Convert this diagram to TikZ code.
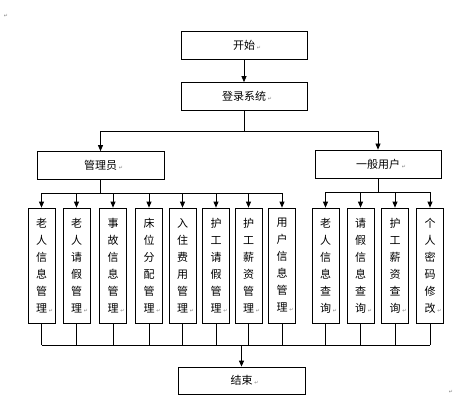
\documentclass[tikz,border=0pt]{standalone}
\usepackage{fontspec}
\usetikzlibrary{arrows.meta}
\newfontfamily\cjk{Noto Sans CJK SC}
\newfontfamily\symf{DejaVu Sans}
\newcommand{\pmk}{\rlap{\,\textcolor{gray}{\symf\fontsize{5}{5}\selectfont ↵}}}
\begin{document}
\begin{tikzpicture}[x=1pt,y=-1pt,
  line width=0.75pt,
  wide/.style={draw, minimum width=126pt, minimum height=28pt, inner sep=0pt, font=\cjk\fontsize{11}{13}\selectfont},
  col/.style={draw, minimum width=27pt, minimum height=115pt, inner sep=0pt, align=center, font=\cjk\fontsize{11}{17}\selectfont},
  arr/.style={-{Triangle[length=6pt,width=5pt]}}]
\useasboundingbox (0,0) rectangle (474,401);
\node[font=\fontsize{5}{5}\selectfont\symf, text=gray] (m1) at (6,16) {↵};
\node[font=\fontsize{5}{5}\selectfont\symf, text=gray] (m2) at (451,392) {↵};
\node[wide] (start) at (244,45) {开始\pmk};
\node[wide] (login) at (244,96.5) {登录系统\pmk};
\node[wide, minimum width=127pt] (mgr) at (100.5,165.5) {管理员\pmk};
\node[wide] (usr) at (378,164) {一般用户\pmk};
\node[wide, minimum width=127pt, minimum height=27pt] (end) at (241.5,380.5) {结束\pmk};
\node[col] (c1) at (41.5,265.5) {老\\人\\信\\息\\管\\理\pmk};
\node[col] (c2) at (76.5,265.5) {老\\人\\请\\假\\管\\理\pmk};
\node[col] (c3) at (113,265.5) {事\\故\\信\\息\\管\\理\pmk};
\node[col] (c4) at (149,265.5) {床\\位\\分\\配\\管\\理\pmk};
\node[col] (c5) at (182.5,265.5) {入\\住\\费\\用\\管\\理\pmk};
\node[col] (c6) at (216,265.5) {护\\工\\请\\假\\管\\理\pmk};
\node[col] (c7) at (248.5,265.5) {护\\工\\薪\\资\\管\\理\pmk};
\node[col] (c8) at (282,265.5) {用\\户\\信\\息\\管\\理\pmk};
\node[col] (u1) at (325.5,265.5) {老\\人\\信\\息\\查\\询\pmk};
\node[col] (u2) at (360.5,265.5) {请\\假\\信\\息\\查\\询\pmk};
\node[col] (u3) at (395,265.5) {护\\工\\薪\\资\\查\\询\pmk};
\node[col] (u4) at (430,265.5) {个\\人\\密\\码\\修\\改\pmk};
\coordinate (ybranch) at (0,131);
\coordinate (ymgr) at (0,193);
\coordinate (yusr) at (0,192);
\coordinate (ybus) at (0,345);
\draw[arr] (start) -- (login);
\draw (login.south) -- (login.south |- ybranch);
\draw[arr] (login.south |- ybranch) -| (mgr.north);
\draw[arr] (login.south |- ybranch) -| (usr.north);
\draw (mgr.south) -- (mgr.south |- ymgr);
\draw (c1.north |- ymgr) -- (c8.north |- ymgr);
\foreach \n in {c1,c2,c3,c4,c5,c6,c7,c8} {
  \draw[arr] (\n.north |- ymgr) -- (\n.north);
  \draw (\n.south) -- (\n.south |- ybus);
}
\draw (usr.south) -- (usr.south |- yusr);
\draw (u1.north |- yusr) -- (u4.north |- yusr);
\foreach \n in {u1,u2,u3,u4} {
  \draw[arr] (\n.north |- yusr) -- (\n.north);
  \draw (\n.south) -- (\n.south |- ybus);
}
\draw (c1.south |- ybus) -- (u4.south |- ybus);
\draw[arr, line width=1pt] (end.north |- ybus) -- (end.north);
\end{tikzpicture}
\end{document}
